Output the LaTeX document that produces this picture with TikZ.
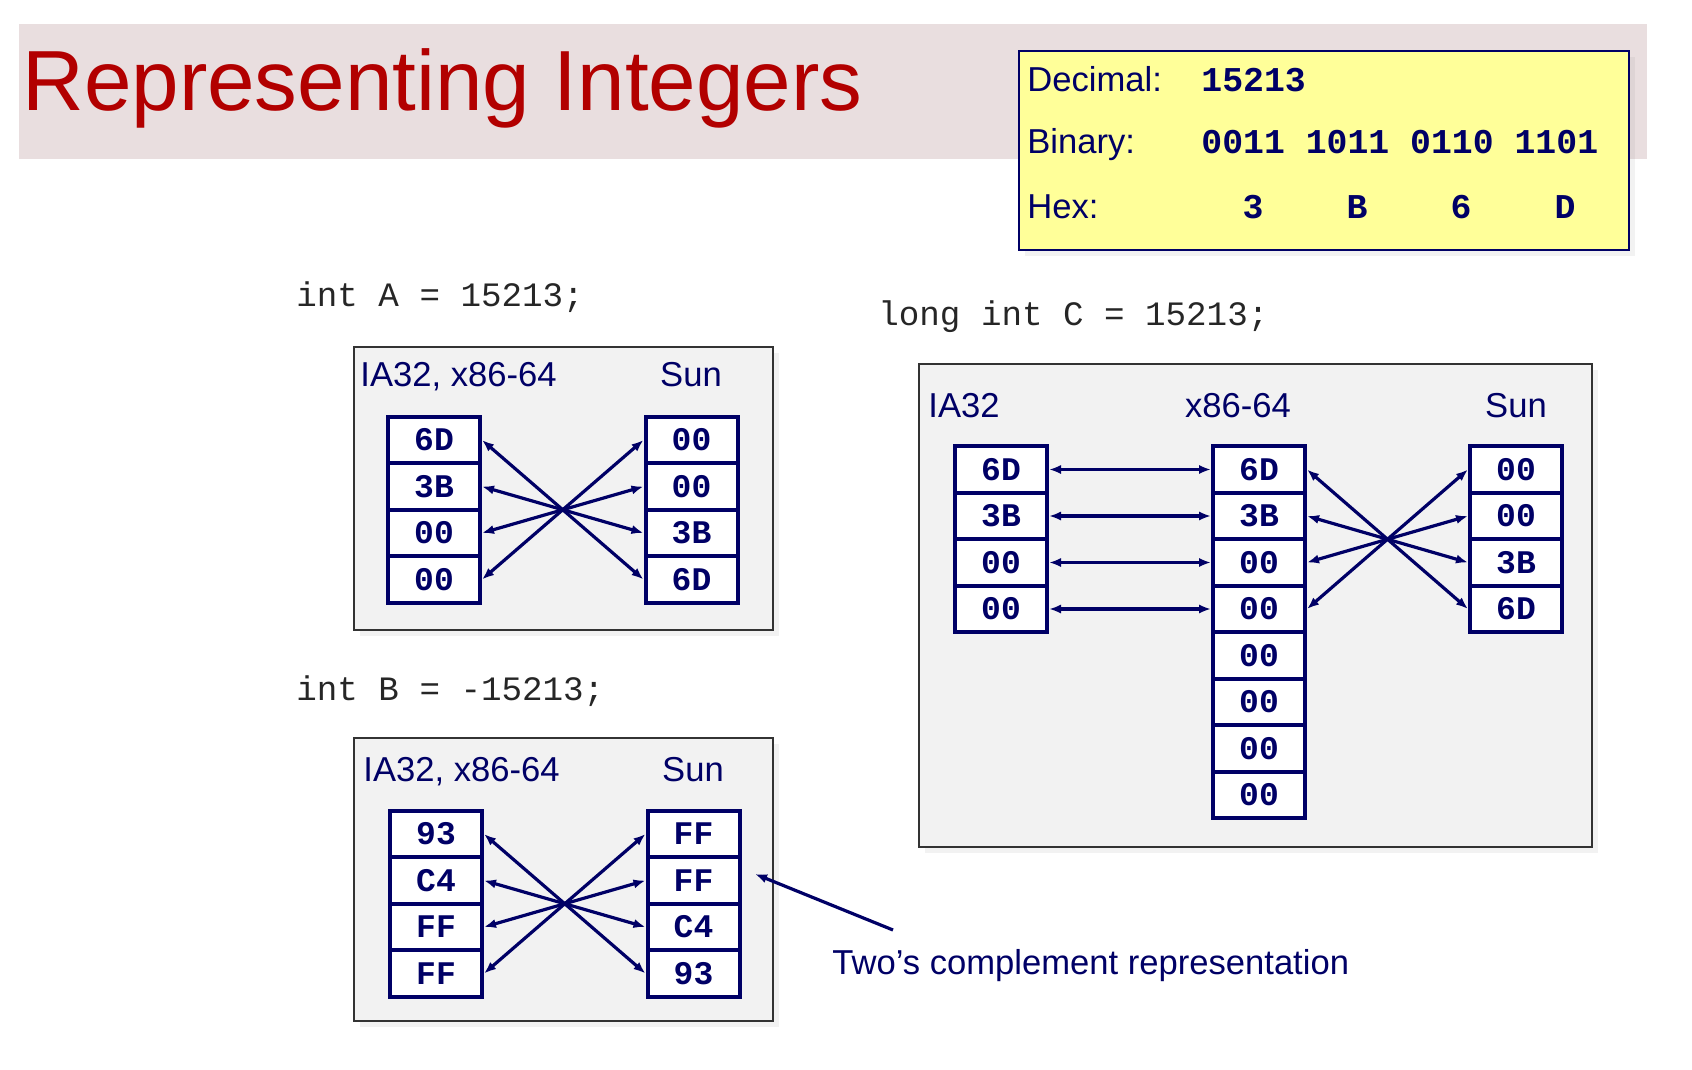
\documentclass[tikz,border=0pt]{standalone}
\usepackage{fontspec}
\setmainfont{Liberation Sans}
\setmonofont{Liberation Mono}
\usepackage{xcolor}
\usetikzlibrary{arrows.meta,shadows}
\definecolor{navy}{RGB}{0,0,102}
\definecolor{titlered}{RGB}{178,0,0}
\definecolor{bandpink}{RGB}{233,222,223}
\definecolor{notepad}{RGB}{255,255,153}
\definecolor{panelgrey}{RGB}{242,242,242}
\newcommand{\hexfont}{\fontsize{16.5}{18}\selectfont\ttfamily\bfseries}
\newcommand{\lblfont}{\fontsize{17.3}{20}\selectfont}

\begin{document}
\begin{tikzpicture}[x=0.5pt, y=-0.5pt, every node/.style={inner sep=0pt},
  cell/.style={rectangle, draw=navy, line width=2pt, fill=white, minimum width=46pt, minimum height=23.25pt, text=navy, font=\hexfont},
  lbl/.style={anchor=base west, text=navy, font=\lblfont},
  code/.style={anchor=base west, text=black!85, font=\fontsize{17.1}{20}\selectfont\ttfamily},
  val/.style={anchor=base west, text=navy, font=\fontsize{17.4}{20}\selectfont\ttfamily\bfseries},
  panel/.style={draw=black!80, line width=0.6pt, fill=panelgrey, drop shadow={shadow xshift=3pt, shadow yshift=-3pt, opacity=0.1}},
  link/.style={{Latex[length=6pt,width=4.6pt]}-{Latex[length=6pt,width=4.6pt]}, draw=navy, line width=1.6pt}]
\useasboundingbox (0,0) rectangle (1692,1070);
\fill[white] (0,0) rectangle (1692,1070);

% Title
\fill[bandpink] (19,24) rectangle (1647,159);
\node[anchor=base west, text=titlered, font=\fontsize{42.7}{50}\selectfont] (title) at (22,111) {Representing Integers};

% Value box
\draw[fill=notepad, draw=navy, line width=1pt, drop shadow={shadow xshift=3pt, shadow yshift=-3pt, opacity=0.1}] (1019,51) rectangle (1629,250);
\node[lbl] (declbl) at (1027,92) {Decimal:};
\node[lbl] (binlbl) at (1027,154) {Binary:};
\node[lbl] (hexlbl) at (1027,218) {Hex:};
\node[val] (decval) at (1201,92) {15213};
\node[val] (binval) at (1201,154) {0011 1011 0110 1101};
\node[val, anchor=base] (hex3) at (1253,218) {3};
\node[val, anchor=base] (hexB) at (1357,218) {B};
\node[val, anchor=base] (hex6) at (1461,218) {6};
\node[val, anchor=base] (hexD) at (1565,218) {D};

% int A
\node[code] (codeA) at (296,306) {int A = 15213;};
\draw[panel] (354,347) rectangle (773,630);
\node[lbl] (archA) at (360,386) {IA32, x86-64};
\node[lbl, anchor=base] (sunA) at (691,386) {Sun};
\node[cell] (alo0) at (434,440) {6D};
\node[cell] (alo1) at (434,486.5) {3B};
\node[cell] (alo2) at (434,533) {00};
\node[cell] (alo3) at (434,579.5) {00};
\node[cell] (asn0) at (691.5,440) {00};
\node[cell] (asn1) at (691.5,486.5) {00};
\node[cell] (asn2) at (691.5,533) {3B};
\node[cell] (asn3) at (691.5,579.5) {6D};
\draw[link] (alo0.east) -- (asn3.west);
\draw[link] (alo1.east) -- (asn2.west);
\draw[link] (alo2.east) -- (asn1.west);
\draw[link] (alo3.east) -- (asn0.west);

% int B
\node[code] (codeB) at (296,700) {int B = -15213;};
\draw[panel] (354,738) rectangle (773,1021);
\node[lbl] (archB) at (363,781) {IA32, x86-64};
\node[lbl, anchor=base] (sunB) at (693,781) {Sun};
\node[cell] (blo0) at (436,834) {93};
\node[cell] (blo1) at (436,880.5) {C4};
\node[cell] (blo2) at (436,927) {FF};
\node[cell] (blo3) at (436,973.5) {FF};
\node[cell] (bsn0) at (693.5,834) {FF};
\node[cell] (bsn1) at (693.5,880.5) {FF};
\node[cell] (bsn2) at (693.5,927) {C4};
\node[cell] (bsn3) at (693.5,973.5) {93};
\draw[link] (blo0.east) -- (bsn3.west);
\draw[link] (blo1.east) -- (bsn2.west);
\draw[link] (blo2.east) -- (bsn1.west);
\draw[link] (blo3.east) -- (bsn0.west);

% Two's complement note
\node[lbl] (twoc) at (832,974) {Two’s complement representation};
\coordinate (twocfrom) at (893,930);
\coordinate (twocto) at (755,874);
\draw[-{Latex[length=6pt,width=4.6pt]}, draw=navy, line width=1.6pt] (twocfrom) -- (twocto);

% long int C
\node[code] (codeC) at (878,325) {long int C = 15213;};
\draw[panel] (919,364) rectangle (1592,847);
\node[lbl] (archC1) at (928,417) {IA32};
\node[lbl, anchor=base] (archC2) at (1238,417) {x86-64};
\node[lbl, anchor=base] (sunC) at (1516,417) {Sun};
\node[cell] (cia0) at (1001,469.5) {6D};
\node[cell] (cia1) at (1001,516) {3B};
\node[cell] (cia2) at (1001,562.5) {00};
\node[cell] (cia3) at (1001,609) {00};
\node[cell] (cx0) at (1259,469.5) {6D};
\node[cell] (cx1) at (1259,516) {3B};
\node[cell] (cx2) at (1259,562.5) {00};
\node[cell] (cx3) at (1259,609) {00};
\node[cell] (cx4) at (1259,655.5) {00};
\node[cell] (cx5) at (1259,702) {00};
\node[cell] (cx6) at (1259,748.5) {00};
\node[cell] (cx7) at (1259,795) {00};
\node[cell] (csn0) at (1516,469.5) {00};
\node[cell] (csn1) at (1516,516) {00};
\node[cell] (csn2) at (1516,562.5) {3B};
\node[cell] (csn3) at (1516,609) {6D};
\draw[link] (cia0.east) -- (cx0.west);
\draw[link] (cia1.east) -- (cx1.west);
\draw[link] (cia2.east) -- (cx2.west);
\draw[link] (cia3.east) -- (cx3.west);
\draw[link] (cx0.east) -- (csn3.west);
\draw[link] (cx1.east) -- (csn2.west);
\draw[link] (cx2.east) -- (csn1.west);
\draw[link] (cx3.east) -- (csn0.west);
\end{tikzpicture}
\end{document}
